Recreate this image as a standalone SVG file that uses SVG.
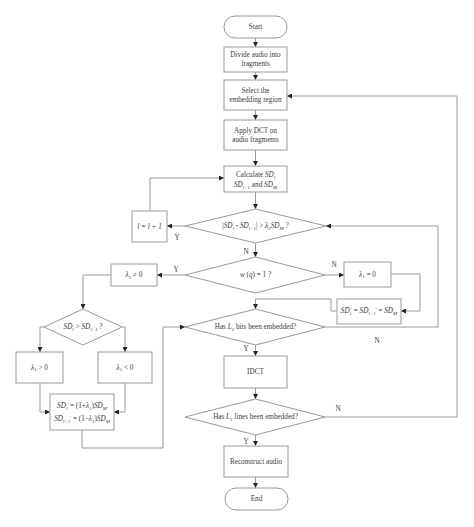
<svg xmlns="http://www.w3.org/2000/svg" width="474" height="527" viewBox="0 0 474 527">
<style>
.n{fill:#fff;stroke:#9a9a9a;stroke-width:1}
.c{fill:none;stroke:#9a9a9a;stroke-width:1}
text{font-family:"Liberation Serif","Times New Roman",serif;font-size:7.2px;fill:#3a3a3a;text-anchor:middle;dominant-baseline:central}
.i{font-style:italic}
.s{font-size:5px}
.l{font-size:7.2px}
</style>
<defs>
<marker id="a" viewBox="0 0 6 6" refX="6" refY="3" markerWidth="5" markerHeight="5" markerUnits="userSpaceOnUse" orient="auto">
<path d="M0,0 L6,3 L0,6 z" fill="#222"/>
</marker>
</defs>
<rect width="474" height="527" fill="#fff"/>
<g id="connectors" class="c" marker-end="url(#a)">
<path d="M255.5,38V47"/>
<path d="M255.5,72V80"/>
<path d="M255.5,110V120"/>
<path d="M255.5,150V166"/>
<path d="M255.5,192V209"/>
<path d="M185,226H167"/>
<path d="M150,211V178H224"/>
<path d="M255.5,243V257"/>
<path d="M185,275H157"/>
<path d="M325,275H344"/>
<path d="M391,274H420V311H401"/>
<path d="M337,311H331V299H255.5V309"/>
<path d="M111,275H83V309"/>
<path d="M44,327H40V352"/>
<path d="M122,327H125V352"/>
<path d="M40,383V412H50"/>
<path d="M125,383V412H114"/>
<path d="M82,430V448H163V327H185"/>
<path d="M255.5,345V356"/>
<path d="M325,327H438V226H326"/>
<path d="M255.5,388V399"/>
<path d="M325,417H457V96H287"/>
<path d="M255.5,435V446"/>
<path d="M255.5,477V488"/>
</g>
<g id="labels">
<text x="177" y="238">Y</text>
<text x="246" y="252">N</text>
<text x="176" y="270">Y</text>
<text x="334" y="265">N</text>
<text x="246" y="349">Y</text>
<text x="377" y="341">N</text>
<text x="338" y="409">N</text>
<text x="246" y="442">Y</text>
</g>
<g id="start"><rect class="n" x="224" y="16" width="63" height="22" rx="11"/><text x="255.5" y="27">Start</text></g>
<g id="divide"><rect class="n" x="224" y="47" width="63" height="25"/><text x="255.5" y="54.5">Divide audio into</text><text x="255.5" y="64">fragments</text></g>
<g id="select"><rect class="n" x="224" y="80" width="63" height="30"/><text x="255.5" y="90.5">Select the</text><text x="255.5" y="99.5">embedding region</text></g>
<g id="dct"><rect class="n" x="224" y="120" width="63" height="30"/><text x="255.5" y="130.5">Apply DCT on</text><text x="255.5" y="139.5">audio fragments</text></g>
<g id="calc"><rect class="n" x="224" y="166" width="63" height="26"/><text x="255.5" y="175">Calculate <tspan class="i">SD</tspan><tspan class="i s" dy="1.5">l</tspan></text><text x="255.5" y="185"><tspan class="i">SD</tspan><tspan class="i s" dy="1.5">l+1</tspan><tspan dy="-1.5"> and </tspan><tspan class="i">SD</tspan><tspan class="i s" dy="1.5">M</tspan></text></g>
<g id="inc"><rect class="n" x="132" y="211" width="35" height="31"/><text x="149.5" y="226.5" class="i">l = l + 1</text></g>
<g id="d1"><polygon class="n" points="255.5,209 326,226 255.5,243 185,226"/><text x="255.5" y="226">|<tspan class="i">SD</tspan><tspan class="i s" dy="1.5">l</tspan><tspan dy="-1.5"> - </tspan><tspan class="i">SD</tspan><tspan class="i s" dy="1.5">l+1</tspan><tspan dy="-1.5">| &gt; </tspan><tspan class="i">λ</tspan><tspan class="s" dy="1.5">2</tspan><tspan class="i" dy="-1.5">SD</tspan><tspan class="i s" dy="1.5">M</tspan><tspan dy="-1.5"> ?</tspan></text></g>
<g id="d2"><polygon class="n" points="255.5,257 325,275 255.5,293 185,275"/><text x="255.5" y="275"><tspan class="i">w</tspan> (<tspan class="i">q</tspan>) = 1 ?</text></g>
<g id="lneq"><rect class="n" x="111" y="264" width="46" height="22"/><text x="134" y="275"><tspan class="i">λ</tspan><tspan class="s" dy="1.5">1</tspan><tspan dy="-1.5"> ≠ 0</tspan></text></g>
<g id="leq"><rect class="n" x="344" y="262" width="47" height="25"/><text x="367.5" y="274.5"><tspan class="i">λ</tspan><tspan class="s" dy="1.5">1</tspan><tspan dy="-1.5"> = 0</tspan></text></g>
<g id="sdeq"><rect class="n" x="337" y="299" width="64" height="25"/><text x="369" y="311"><tspan class="i">SD</tspan><tspan class="i s" dy="1.5">l</tspan><tspan class="s" dy="-4">'</tspan><tspan dy="2.5"> = </tspan><tspan class="i">SD</tspan><tspan class="i s" dy="1.5">l+1</tspan><tspan class="s" dy="-4">'</tspan><tspan dy="2.5"> = </tspan><tspan class="i">SD</tspan><tspan class="i s" dy="1.5">M</tspan></text></g>
<g id="d5"><polygon class="n" points="83,309 122,327 83,345 44,327"/><text x="83" y="327"><tspan class="i">SD</tspan><tspan class="i s" dy="1.5">l</tspan><tspan dy="-1.5"> &gt; </tspan><tspan class="i">SD</tspan><tspan class="i s" dy="1.5">l+1</tspan><tspan dy="-1.5"> ?</tspan></text></g>
<g id="lgt"><rect class="n" x="16" y="352" width="47" height="31"/><text x="39.5" y="367.5"><tspan class="i">λ</tspan><tspan class="s" dy="1.5">1</tspan><tspan dy="-1.5"> &gt; 0</tspan></text></g>
<g id="llt"><rect class="n" x="98" y="352" width="54" height="31"/><text x="125" y="367.5"><tspan class="i">λ</tspan><tspan class="s" dy="1.5">1</tspan><tspan dy="-1.5"> &lt; 0</tspan></text></g>
<g id="formula"><rect class="n" x="50" y="394" width="64" height="36"/><text x="82" y="406"><tspan class="i">SD</tspan><tspan class="i s" dy="1.5">l</tspan><tspan class="s" dy="-4">'</tspan><tspan dy="2.5"> = (1+</tspan><tspan class="i">λ</tspan><tspan class="s" dy="1.5">1</tspan><tspan dy="-1.5">)</tspan><tspan class="i">SD</tspan><tspan class="i s" dy="1.5">M</tspan></text><text x="82" y="419"><tspan class="i">SD</tspan><tspan class="i s" dy="1.5">l+1</tspan><tspan class="s" dy="-4">'</tspan><tspan dy="2.5"> = (1−</tspan><tspan class="i">λ</tspan><tspan class="s" dy="1.5">1</tspan><tspan dy="-1.5">)</tspan><tspan class="i">SD</tspan><tspan class="i s" dy="1.5">M</tspan></text></g>
<g id="d3"><polygon class="n" points="255.5,309 325,327 255.5,345 185,327"/><text x="255.5" y="327">Has <tspan class="i">L</tspan><tspan class="s" dy="1.5">2</tspan><tspan dy="-1.5"> bits been embedded?</tspan></text></g>
<g id="idct"><rect class="n" x="224" y="356" width="63" height="32"/><text x="255.5" y="372">IDCT</text></g>
<g id="d4"><polygon class="n" points="255.5,399 325,417 255.5,435 185,417"/><text x="255.5" y="417">Has <tspan class="i">L</tspan><tspan class="s" dy="1.5">1</tspan><tspan dy="-1.5"> lines been embedded?</tspan></text></g>
<g id="recon"><rect class="n" x="224" y="446" width="64" height="31"/><text x="256" y="461.5">Reconstruct audio</text></g>
<g id="end"><rect class="n" x="225" y="488" width="63" height="22" rx="11"/><text x="256.5" y="499">End</text></g>
</svg>
